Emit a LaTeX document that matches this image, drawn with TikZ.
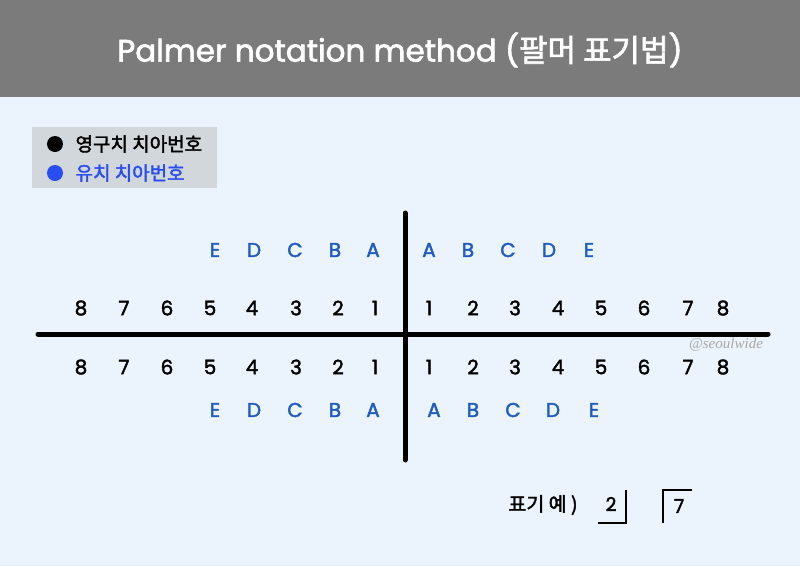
\documentclass[tikz,border=0pt]{standalone}
\usepackage{fontspec}
\setmainfont{Poppins}[FakeBold=2]
\newfontfamily\krfont{Noto Sans CJK KR}[FakeBold=2]
\newfontfamily\markfont{Liberation Serif}
\definecolor{headgray}{HTML}{7B7B7B}
\definecolor{paleblue}{HTML}{EBF4FC}
\definecolor{legendgray}{HTML}{D2D7DB}
\definecolor{toothblue}{HTML}{1F5CC0}
\definecolor{dotblue}{HTML}{2A4DF2}
\definecolor{markgray}{HTML}{A8A8A8}
\tikzset{
  digit/.style={font=\fontsize{20}{24}\selectfont, text=black, inner sep=0pt},
  baby/.style={font=\fontsize{20}{24}\selectfont, text=toothblue, inner sep=0pt},
  axis/.style={line width=5pt, line cap=round},
  bracket/.style={line width=2.5pt}
}
\begin{document}
\begin{tikzpicture}[x=1pt, y=-1pt]
        \useasboundingbox (0, 0) rectangle (800, 566);
        \fill[paleblue] (0, 0) rectangle (800, 566);
        \fill[headgray] (0, 0) rectangle (800, 97);
        \node[font=\fontsize{31}{36}\selectfont, text=white] (title) at (400, 50) {Palmer notation method ({\krfont 팔머 표기법})};
        % legend
        \fill[legendgray] (32, 127) rectangle (217, 188);
        \fill[black] (55, 144) circle (8);
        \fill[dotblue] (55, 173) circle (8);
        \node[anchor=west, font=\krfont\fontsize{19}{21}\selectfont] (perm) at (72, 144) {영구치 치아번호};
        \node[anchor=west, font=\krfont\fontsize{19}{21}\selectfont, text=dotblue] (prim) at (72, 173) {유치 치아번호};
        % cross
        \draw[axis] (38, 334) -- (768, 334);
        \draw[axis] (405, 213) -- (405, 460);
        % permanent teeth
        \foreach \n/\x in {8/81, 7/124, 6/167, 5/210, 4/252, 3/296, 2/338, 1/375} {
            \node[digit] (ul\n) at (\x, 308) {\n};
            \node[digit] (ll\n) at (\x, 367) {\n};
        }
        \foreach \n/\x in {1/429, 2/473, 3/515, 4/558, 5/601, 6/644, 7/688, 8/723} {
            \node[digit] (ur\n) at (\x, 308) {\n};
            \node[digit] (lr\n) at (\x, 367) {\n};
        }
        % primary teeth
        \foreach \n/\x in {E/215, D/254, C/295, B/335, A/373} {
            \node[baby] (uls\n) at (\x, 250) {\n};
            \node[baby] (lls\n) at (\x, 410) {\n};
        }
        \foreach \n/\x in {A/429, B/468, C/508, D/549, E/589} {
            \node[baby] (urs\n) at (\x, 250) {\n};
        }
        \foreach \n/\x in {A/434, B/473, C/513, D/553, E/594} {
            \node[baby] (lrs\n) at (\x, 410) {\n};
        }
        \node[font=\markfont\itshape\fontsize{15}{17}\selectfont, text=markgray] (mark) at (726, 345) {@seoulwide};
        % example
        \node[font=\krfont\fontsize{19.5}{22}\selectfont] (exlabel) at (543, 505) {표기 예 )};
        \node[digit, font=\fontsize{19}{22}\selectfont] (extwo) at (611, 504) {2};
        \node[digit, font=\fontsize{19}{22}\selectfont] (exseven) at (679, 506) {7};
        \draw[bracket] (598, 523) -- (626, 523) -- (626, 490);
        \draw[bracket] (663, 523) -- (663, 490) -- (692, 490);
    \end{tikzpicture}
\end{document}
